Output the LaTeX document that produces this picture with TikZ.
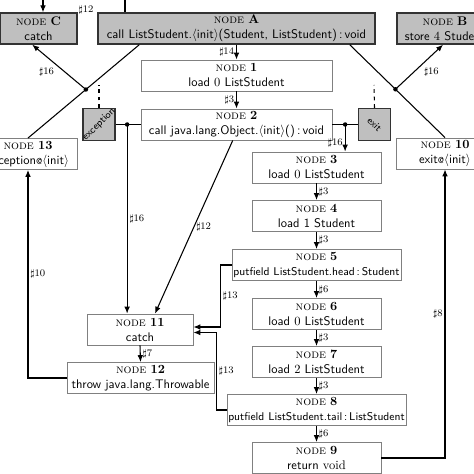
\documentclass[tikz,border=0pt]{standalone}
\usepackage{amsmath}
\usetikzlibrary{arrows.meta,calc}
\newcommand{\nodehead}[1]{{\rmfamily\textsc{node}~\textbf{#1}}}
\newcommand{\initname}{$\langle$init$\rangle$}
\newcommand{\at}{{\scriptsize @}}
\begin{document}
\begin{tikzpicture}[x=0.8pt,y=-0.8pt,
  box/.style={draw=gray,line width=0.7pt,align=center,font=\sffamily,inner sep=1pt,minimum height=24.8pt},
  gbox/.style={box,draw=black!80,fill=gray!50,line width=1.1pt},
  tagbox/.style={draw=black!80,fill=gray!50,line width=1.1pt,minimum size=25.6pt,inner sep=0pt},
  lbl/.style={font=\footnotesize,inner sep=1.5pt},
  edge/.style={line width=0.85pt,->},
  >={Latex[length=5.5pt,width=4.5pt]}]
\useasboundingbox (0,0) rectangle (474,474);
\clip (0,0) rectangle (474,474);
% top row
\node[gbox,minimum width=61.6pt] (nC) at (38.5,28.5) {\nodehead{C}\\catch};
\node[gbox,minimum width=221.6pt] (nA) at (236.5,28.5) {\nodehead{A}\\call ListStudent.\initname(Student, ListStudent)\,:\,void};
\node[gbox,minimum width=76.8pt] (nB) at (445,28.5) {\nodehead{B}\\store $4$ Student};
% call nodes
\node[box,minimum width=152.8pt] (n1) at (236.5,75.5) {\nodehead{1}\\load $0$ ListStudent};
\node[box,minimum width=152.8pt] (n2) at (236.5,124.5) {\nodehead{2}\\call java.lang.Object.\initname()\,:\,void};
\node[tagbox,label={[rotate=45,font=\sffamily\footnotesize]center:exception}] (exc) at (99,124.5) {};
\node[tagbox,label={[rotate=-45,font=\sffamily\footnotesize]center:exit}] (ext) at (374.5,124.5) {};
\node[box,minimum width=78.4pt] (n13) at (28,154) {\nodehead{13}\\exception\at\initname};
\node[box,minimum width=78.4pt] (n10) at (445,153.5) {\nodehead{10}\\exit\at\initname};
% main column
\node[box,minimum width=103.2pt] (n3) at (316.5,167.5) {\nodehead{3}\\load $0$ ListStudent};
\node[box,minimum width=103.2pt] (n4) at (316.5,216) {\nodehead{4}\\load 1 Student};
\node[box,minimum width=135.2pt] (n5) at (316.5,265) {\nodehead{5}\\{\small putfield ListStudent.head\,:\,Student}};
\node[box,minimum width=103.2pt] (n6) at (316.5,314) {\nodehead{6}\\load $0$ ListStudent};
\node[box,minimum width=103.2pt] (n7) at (316.5,362) {\nodehead{7}\\load $2$ ListStudent};
\node[box,minimum width=136.8pt] (n8) at (316.5,410) {\nodehead{8}\\{\small putfield ListStudent.tail\,:\,ListStudent}};
\node[box,minimum width=103.2pt] (n9) at (316.5,458) {\nodehead{9}\\return {\rmfamily void}};
% handler
\node[box,minimum width=84.8pt] (n11) at (140,329.5) {\nodehead{11}\\catch};
\node[box,minimum width=117.6pt] (n12) at (140.5,378) {\nodehead{12}\\throw java.lang.Throwable};

% lines from above
\coordinate (topC) at (43,0);
\coordinate (topA) at (125,0);
\draw[edge] (topC) -- (topC |- nC.north);
\draw[line width=0.85pt] (topA) -- (topA |- nA.north);
\node[lbl] (t12) at (86,10) {$\sharp12$};

% exceptional branches
\coordinate (aL) at ($(nA.south west)+(42,0)$);
\coordinate (aR) at ($(nA.south east)+(-26,0)$);
\coordinate (dL) at ($(aL)!0.48!(n13.north)$);
\coordinate (dR) at ($(aR)!0.48!(n10.north)$);
\draw[line width=0.85pt] (aL) -- (n13.north);
\draw[line width=0.85pt] (aR) -- (n10.north);
\draw[edge] (dL) -- ($(nC.south west)!0.42!(nC.south east)$) node[lbl,pos=0.55,below left] {$\sharp16$};
\draw[edge] (dR) -- ($(nB.south west)!0.48!(nB.south east)$) node[lbl,pos=0.55,below right] {$\sharp16$};
\fill (dL) circle (1.8pt);
\fill (dR) circle (1.8pt);
\coordinate (excT) at (99,85);
\coordinate (extT) at (374,85);
\draw[dashed,line width=0.85pt] (exc.north) -- (excT);
\draw[dashed,line width=0.85pt] (ext.north) -- (extT);

% around node 2
\coordinate (d2L) at ($(exc.east)!0.46!(n2.west)$);
\coordinate (d2R) at ($(n2.east)!0.5!(ext.west)$);
\draw[line width=0.85pt] (exc.east) -- (n2.west);
\draw[line width=0.85pt] (n2.east) -- (ext.west);
\fill (d2L) circle (1.8pt);
\fill (d2R) circle (1.8pt);
\draw[edge] (d2L) -- (d2L |- n11.north) node[lbl,midway,right] {$\sharp16$};
\draw[edge] (d2R) -- (d2R |- n3.north) node[lbl,pos=0.7,left] {$\sharp16$};
\draw[edge] ([xshift=-3pt]n2.south) -- ([xshift=12pt]n11.north) node[lbl,midway,right] {$\sharp12$};

% sequential edges
\draw[edge] (nA.south) -- (n1.north) node[lbl,midway,left] {$\sharp14$};
\draw[edge] (n1.south) -- (n2.north) node[lbl,midway,left] {$\sharp3$};
\foreach \a/\b/\w in {3/4/3,4/5/3,5/6/6,6/7/3,7/8/3,8/9/6}
  \draw[edge] (n\a.south) -- (n\b.north) node[lbl,midway,right] {$\sharp\w$};
\draw[edge] (n11.south) -- (n12.north) node[lbl,midway,right] {$\sharp7$};

% back edges
\draw[edge] (n5.west) -- ++(-11,0) |- ([yshift=2pt]n11.east) node[lbl,pos=0.25,right] {$\sharp13$};
\draw[edge] (n8.west) -- ++(-10,0) |- ([yshift=-2.4pt]n11.east) node[lbl,pos=0.25,right] {$\sharp13$};
\draw[edge] (n12.west) -| (n13.south) node[lbl,pos=0.75,right] {$\sharp10$};
\draw[edge] (n9.east) -| (n10.south) node[lbl,pos=0.75,left] {$\sharp8$};
\end{tikzpicture}
\end{document}
